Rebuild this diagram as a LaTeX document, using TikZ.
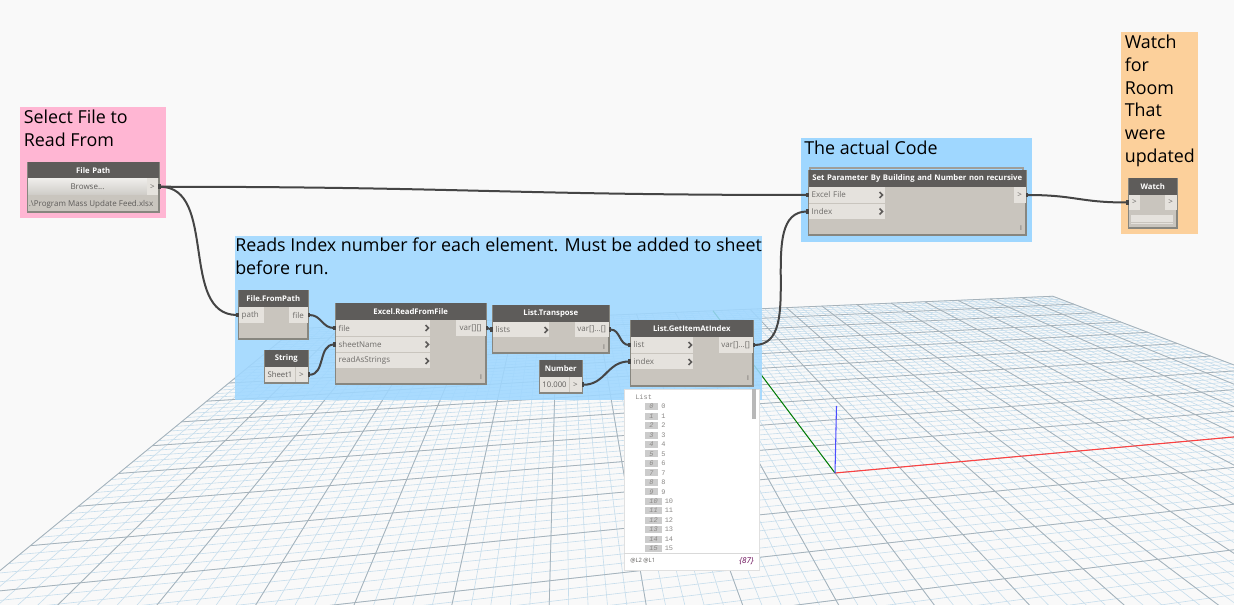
\documentclass[tikz,border=0pt]{standalone}
\usepackage{fontspec}
\setmainfont{Open Sans}
\newfontfamily\monof{Liberation Mono}
\usetikzlibrary{arrows.meta}
\definecolor{canvas}{HTML}{F9F9F9}
\definecolor{gminor}{HTML}{C6DDEC}
\definecolor{gmajor}{HTML}{A6B2BA}
\definecolor{pinkg}{HTML}{FFB6D3}
\definecolor{blueg}{HTML}{9FD7FF}
\definecolor{orangeg}{HTML}{FCD09B}
\definecolor{head}{HTML}{5E5C5A}
\definecolor{body}{HTML}{C9C5BE}
\definecolor{port}{HTML}{E5E2DD}
\definecolor{edge}{HTML}{87867F}
\definecolor{wire}{HTML}{454545}
\definecolor{ptext}{HTML}{6E6C69}
\tikzset{
 x=0.75pt,y=-0.75pt,
 declare function={hA=0.186;hB=0.808;
  hd(\X,\Y)=1+hA*\X+hB*\Y;
  hx(\X,\Y)=(835+hA*\X*4356+hB*\Y*562)/hd(\X,\Y);
  hy(\X,\Y)=(473+hA*\X*155+hB*\Y*110)/hd(\X,\Y);},
 minorline/.style={draw=gminor,line width=0.45pt},
 majorline/.style={draw=gmajor,line width=0.6pt},
 grp/.style={font=\fontsize{13.4}{17}\selectfont,text=black,inner sep=0pt,anchor=north west,align=left},
 boxbase/.style={inner xsep=0pt,inner ysep=0pt,outer sep=0pt,anchor=north west},
 nodebody/.style={boxbase,fill=body,draw=edge,line width=0.8pt},
 header/.style={boxbase,fill=head,text=white,font=\fontsize{5.8}{8}\bfseries\selectfont,align=center,text width=\bw},
 portl/.style={boxbase,inner xsep=2pt,fill=port,text=ptext,font=\fontsize{6}{8}\selectfont,align=left,text width=\bw-4pt},
 portr/.style={boxbase,fill=port,text=ptext,font=\fontsize{6}{8}\selectfont,align=center,text width=\bw},
 chev/.style={draw=head,line width=1.1pt},
 lacing/.style={inner sep=0pt,text=head,font=\fontsize{5}{6}\selectfont},
 wirel/.style={draw=wire,line width=1.5pt,{Rectangle[length=2pt,width=3.4pt]}-{Rectangle[length=2pt,width=3.4pt]}},
 prow/.style={inner sep=0pt,font=\monof\fontsize{5.2}{6}\selectfont,text=ptext!80},
}
\newcommand{\bx}[7][]{%
 \pgfmathsetlengthmacro\bw{(#5-#3)*0.75pt}%
 \pgfmathsetlengthmacro\bh{(#6-#4)*0.75pt}%
 \node[#1,minimum width=\bw,minimum height=\bh] (#2) at (#3,#4) {#7};}
\newcommand{\chv}[2]{\draw[chev] (#1-1.5,#2-3) -- (#1+1.5,#2) -- (#1-1.5,#2+3);}
\begin{document}
\begin{tikzpicture}
\useasboundingbox (0,0) rectangle (1234,605);
\fill[canvas] (0,0) rectangle (1234,605);
\begin{scope}
\clip (0,0) rectangle (1234,605);
\foreach \i in {-50,...,50}{
  \pgfmathsetmacro\X{\i/50}
  \draw[minorline] ({hx(\X,-0.6)},{hy(\X,-0.6)}) -- ({hx(\X,1)},{hy(\X,1)});}
\foreach \i in {-30,...,50}{
  \pgfmathsetmacro\Y{\i/50}
  \draw[minorline] ({hx(-1,\Y)},{hy(-1,\Y)}) -- ({hx(1,\Y)},{hy(1,\Y)});}
\foreach \i in {-50,-45,...,50}{
  \pgfmathsetmacro\X{\i/50}
  \draw[majorline] ({hx(\X,-0.6)},{hy(\X,-0.6)}) -- ({hx(\X,1)},{hy(\X,1)});}
\foreach \i in {-30,-25,...,50}{
  \pgfmathsetmacro\Y{\i/50}
  \draw[majorline] ({hx(-1,\Y)},{hy(-1,\Y)}) -- ({hx(1,\Y)},{hy(1,\Y)});}
\draw[draw=red!75,line width=0.8pt] ({hx(0,0)},{hy(0,0)}) -- ({hx(1,0)},{hy(1,0)});
\draw[draw=green!50!black,line width=0.7pt] ({hx(0,0)},{hy(0,0)}) -- ({hx(0,1)},{hy(0,1)});
\draw[draw=blue!70,line width=0.8pt] (835,473) -- (836.5,406);
\end{scope}
% groups
\fill[pinkg] (20,107) rectangle (166,218);
\fill[blueg,fill opacity=0.88] (235,236) rectangle (762,400);
\fill[blueg] (801,138) rectangle (1032,242);
\fill[orangeg] (1121,32) rectangle (1198,234);
\node[grp] (gA) at (23.5,110) {Select File to\\Read From};
\node[grp] (gB) at (235,238) {Reads Index number for each element. Must be added to sheet\\before run.};
\node[grp] (gC) at (804,141) {The actual Code};
\node[grp] (gD) at (1124.5,35) {Watch\\for\\Room\\That\\were\\updated};
% File Path
\bx[nodebody]{fp}{27.5}{162.5}{159}{212}{}
\bx[header]{fpH}{27.5}{162.5}{159}{178.5}{File Path}
\bx[boxbase,top color=port!60!white,bottom color=port!90!black,text=head,font=\fontsize{6}{8}\selectfont,align=center,text width=\bw]{fpB}{28}{178.5}{147}{195}{Browse...}
\bx[portr]{fpO}{147}{178.5}{158}{195}{>}
\node[inner sep=0pt,anchor=west,text=head,font=\fontsize{6}{8}\selectfont] (fpT) at (28.5,204) {.\textbackslash Program Mass Update Feed.xlsx};
% File.FromPath
\bx[nodebody]{ffp}{238.5}{290.5}{308}{339}{}
\bx[header]{ffpH}{238.5}{290.5}{308}{307}{File.FromPath}
\bx[portl]{ffpI}{239}{307}{264}{323}{path}
\bx[portr]{ffpO}{289}{307}{307.5}{323}{file}
% String
\bx[nodebody]{st}{264.5}{350.5}{308}{383}{}
\bx[header]{stH}{264.5}{350.5}{308}{367}{String}
\bx[boxbase,fill=port,text=head,font=\fontsize{5.8}{8}\selectfont,align=center,text width=\bw]{stV}{265}{367}{295}{382.5}{Sheet1}
\bx[portr]{stO}{295.5}{367}{307.5}{382.5}{>}
% Excel
\bx[nodebody]{xl}{335.5}{303.5}{486}{384}{}
\bx[header]{xlH}{335.5}{303.5}{486}{320}{Excel.ReadFromFile}
\bx[portl]{xlA}{336}{320}{430}{336}{file}
\bx[portl]{xlB}{336}{337}{430}{352}{sheetName}
\bx[portl]{xlC}{336}{353}{430}{368}{readAsStrings}
\bx[portr]{xlO}{456}{320}{485.5}{336}{var[][]}
\chv{427}{328}\chv{427}{344.5}\chv{427}{361}
\node[lacing] (xlL) at (481,377) {I};
% Transpose
\bx[nodebody]{tr}{492.5}{305.5}{609}{353}{}
\bx[header]{trH}{492.5}{305.5}{609}{322}{List.Transpose}
\bx[portl]{trI}{493}{322}{549}{337}{lists}
\bx[portr]{trO}{575}{322}{608.5}{337}{var[]...[]}
\chv{546}{330}
\node[lacing] (trL) at (604,347) {I};
% GetItem
\bx[nodebody]{gi}{630.5}{320.5}{753}{386}{}
\bx[header]{giH}{630.5}{320.5}{753}{337}{List.GetItemAtIndex}
\bx[portl]{giA}{631}{337}{693}{353}{list}
\bx[portl]{giB}{631}{354}{693}{369}{index}
\bx[portr]{giO}{719}{337}{752.5}{353}{var[]...[]}
\chv{690}{345}\chv{690}{362}
\node[lacing] (giL) at (748,378) {I};
% Number
\bx[nodebody]{nu}{539.5}{360.5}{582}{393}{}
\bx[header]{nuH}{539.5}{360.5}{582}{377}{Number}
\bx[boxbase,fill=port,text=head,font=\fontsize{5.8}{8}\selectfont,align=center,text width=\bw]{nuV}{540}{377}{569}{392.5}{10.000}
\bx[portr]{nuO}{569.5}{377}{581.5}{392.5}{>}
% Set parameter
\draw[draw=edge!80,line width=0.8pt] (810,170) -- (810,168) -- (1023,168) -- (1023,170);
\bx[nodebody]{sp}{808.5}{170.5}{1026}{235}{}
\bx[header]{spH}{808.5}{170.5}{1026}{187}{Set Parameter By Building and Number non recursive}
\bx[portl]{spA}{809}{187}{885}{203}{Excel File}
\bx[portl]{spB}{809}{204}{885}{219}{Index}
\bx[portr]{spO}{1014}{187}{1025.5}{203}{>}
\chv{881}{195}\chv{881}{211.5}
\node[lacing] (spL) at (1021,228) {I};
% Watch
\bx[nodebody]{wa}{1128.5}{178.5}{1177}{228}{}
\bx[header]{waH}{1128.5}{178.5}{1177}{195}{Watch}
\bx[portr]{waI}{1129}{195}{1140}{210}{>}
\bx[portr]{waO}{1165}{195}{1176.5}{210}{>}
\bx[boxbase,fill=port]{waV}{1131}{215}{1173}{222}{}
\draw[draw=port,line width=0.5pt] (1131,223.5) -- (1173,223.5);
% Preview
\bx[boxbase,fill=white,draw=black!12,line width=0.6pt]{pv}{624}{389}{759}{570}{}
\fill[black!28] (752,389) rectangle (756,419);
\draw[draw=black!15,line width=0.6pt] (624,553) -- (759,553);
\node[prow,anchor=west] (pvL) at (635,397.5) {List};
\foreach \i in {0,...,15}{
  \pgfmathsetmacro\ry{406.7+9.45*\i}
  \ifnum\i<10
    \fill[black!20] (645,\ry-3.5) rectangle (658,\ry+3.5);
    \node[prow,anchor=center,font=\monof\itshape\fontsize{5.2}{6}\selectfont] (pvI\i) at (651.5,\ry) {\i};
    \node[prow,anchor=west] (pvV\i) at (661,\ry) {\i};
  \else
    \fill[black!20] (645,\ry-3.5) rectangle (662,\ry+3.5);
    \node[prow,anchor=center,font=\monof\itshape\fontsize{5.2}{6}\selectfont] (pvI\i) at (653.5,\ry) {\i};
    \node[prow,anchor=west] (pvV\i) at (664.5,\ry) {\i};
  \fi
}
\node[inner sep=0pt,anchor=west,text=head,font=\fontsize{4.4}{5}\selectfont] (pvF) at (630,561) {@L2 @L1};
\node[inner sep=0pt,anchor=east,text=red!55!blue!70!black,font=\itshape\fontsize{6}{7}\selectfont] (pvC) at (754,561) {\{87\}};
% Wires
\draw[wirel] (fpO.east) .. controls +(60,0) and +(-60,0) .. (ffpI.west);
\draw[wirel] (fpO.east) .. controls +(300,0) and +(-300,0) .. (spA.west);
\draw[wirel] (ffpO.east) .. controls +(14,0) and +(-14,0) .. (xlA.west);
\draw[wirel] (stO.east) .. controls +(18,0) and +(-18,0) .. (xlB.west);
\draw[wirel] (xlO.east) .. controls +(3,0) and +(-3,0) .. (trI.west);
\draw[wirel] (trO.east) .. controls +(12,0) and +(-12,0) .. (giA.west);
\draw[wirel] (nuO.east) .. controls +(24,0) and +(-24,0) .. (giB.west);
\draw[wirel] (giO.east) .. controls +(55,0) and +(-55,0) .. (spB.west);
\draw[wirel] (spO.east) .. controls +(50,0) and +(-50,0) .. (waI.west);
\end{tikzpicture}
\end{document}
